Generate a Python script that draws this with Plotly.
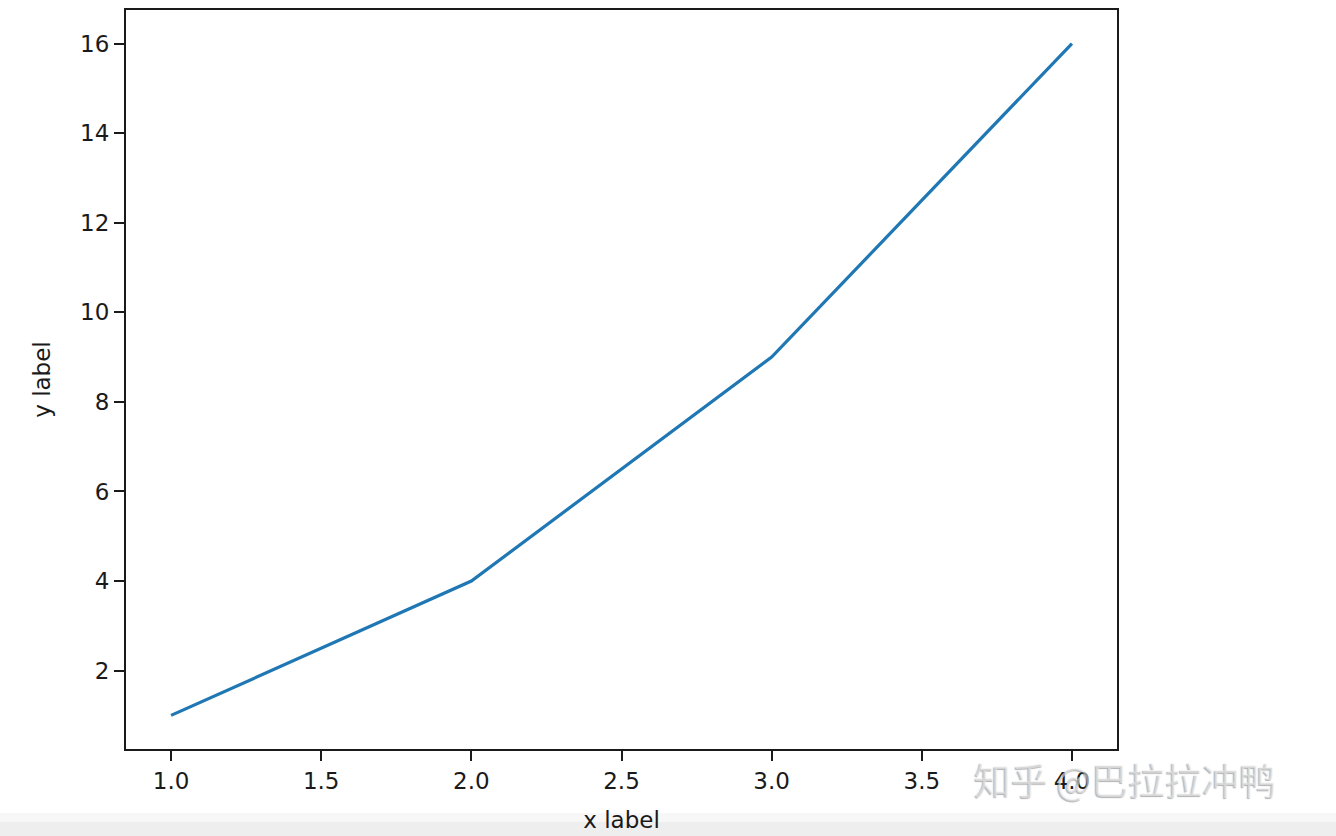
import plotly.graph_objects as go

x_values = [1, 2, 3, 4]
y_values = [1, 4, 9, 16]
x_ticks = [1.0, 1.5, 2.0, 2.5, 3.0, 3.5, 4.0]
x_tick_labels = ["1.0", "1.5", "2.0", "2.5", "3.0", "3.5", "4.0"]
y_ticks = [2, 4, 6, 8, 10, 12, 14, 16]
y_tick_labels = ["2", "4", "6", "8", "10", "12", "14", "16"]
x_title = "x label"
y_title = "y label"
watermark = "知乎 @巴拉拉冲鸭"

W, H = 1336, 836
L, R, T, B = 126, 1117, 10, 749

fig = go.Figure()
fig.add_trace(go.Scatter(x=x_values, y=y_values, mode="lines",
                         line=dict(color="#1f77b4", width=3.2), showlegend=False))

txt = dict(family="DejaVu Sans", size=23, color="#1a1a1a")
axis_common = dict(showgrid=False, zeroline=False, showline=True, linecolor="#1a1a1a",
                   linewidth=2, mirror=True, ticks="outside", ticklen=10, tickwidth=1.6,
                   tickcolor="#1a1a1a", tickfont=txt, automargin=False)

fig.update_layout(
    width=W, height=H,
    margin=dict(l=L, r=W - R, t=T, b=H - B, autoexpand=False),
    plot_bgcolor="white", paper_bgcolor="white",
    xaxis=dict(range=[0.85, 4.15], tickvals=x_ticks, ticktext=x_tick_labels,
               title=dict(text=x_title, font=txt, standoff=19),
               **axis_common),
    yaxis=dict(range=[0.25, 16.75], tickvals=y_ticks, ticktext=y_tick_labels,
               title=dict(text=y_title, font=txt, standoff=23),
               **axis_common),
)

# light gray band at the bottom of the screenshot
fig.add_shape(type="rect", xref="paper", yref="paper",
              x0=-L / (R - L), x1=(W - L) / (R - L),
              y0=-(H - B) / (B - T), y1=-(822 - B) / (B - T),
              fillcolor="#eeeeee", line=dict(width=0), layer="below")
fig.add_shape(type="rect", xref="paper", yref="paper",
              x0=-L / (R - L), x1=(W - L) / (R - L),
              y0=-(822 - B) / (B - T), y1=-(813 - B) / (B - T),
              fillcolor="#f7f7f7", line=dict(width=0), layer="below")

fig.add_annotation(text=watermark, xref="paper", yref="paper",
                   x=(972 - L) / (R - L), y=-(779 - B) / (B - T),
                   xanchor="left", yanchor="middle", showarrow=False,
                   font=dict(family="Noto Sans CJK SC", size=37, color="rgba(244,244,244,0.55)",
                             shadow="-1px 1px 1px rgba(80,80,80,0.8)"))

fig.write_html("out.html", config={"displayModeBar": False},
               post_script="document.body.style.margin='0';")
